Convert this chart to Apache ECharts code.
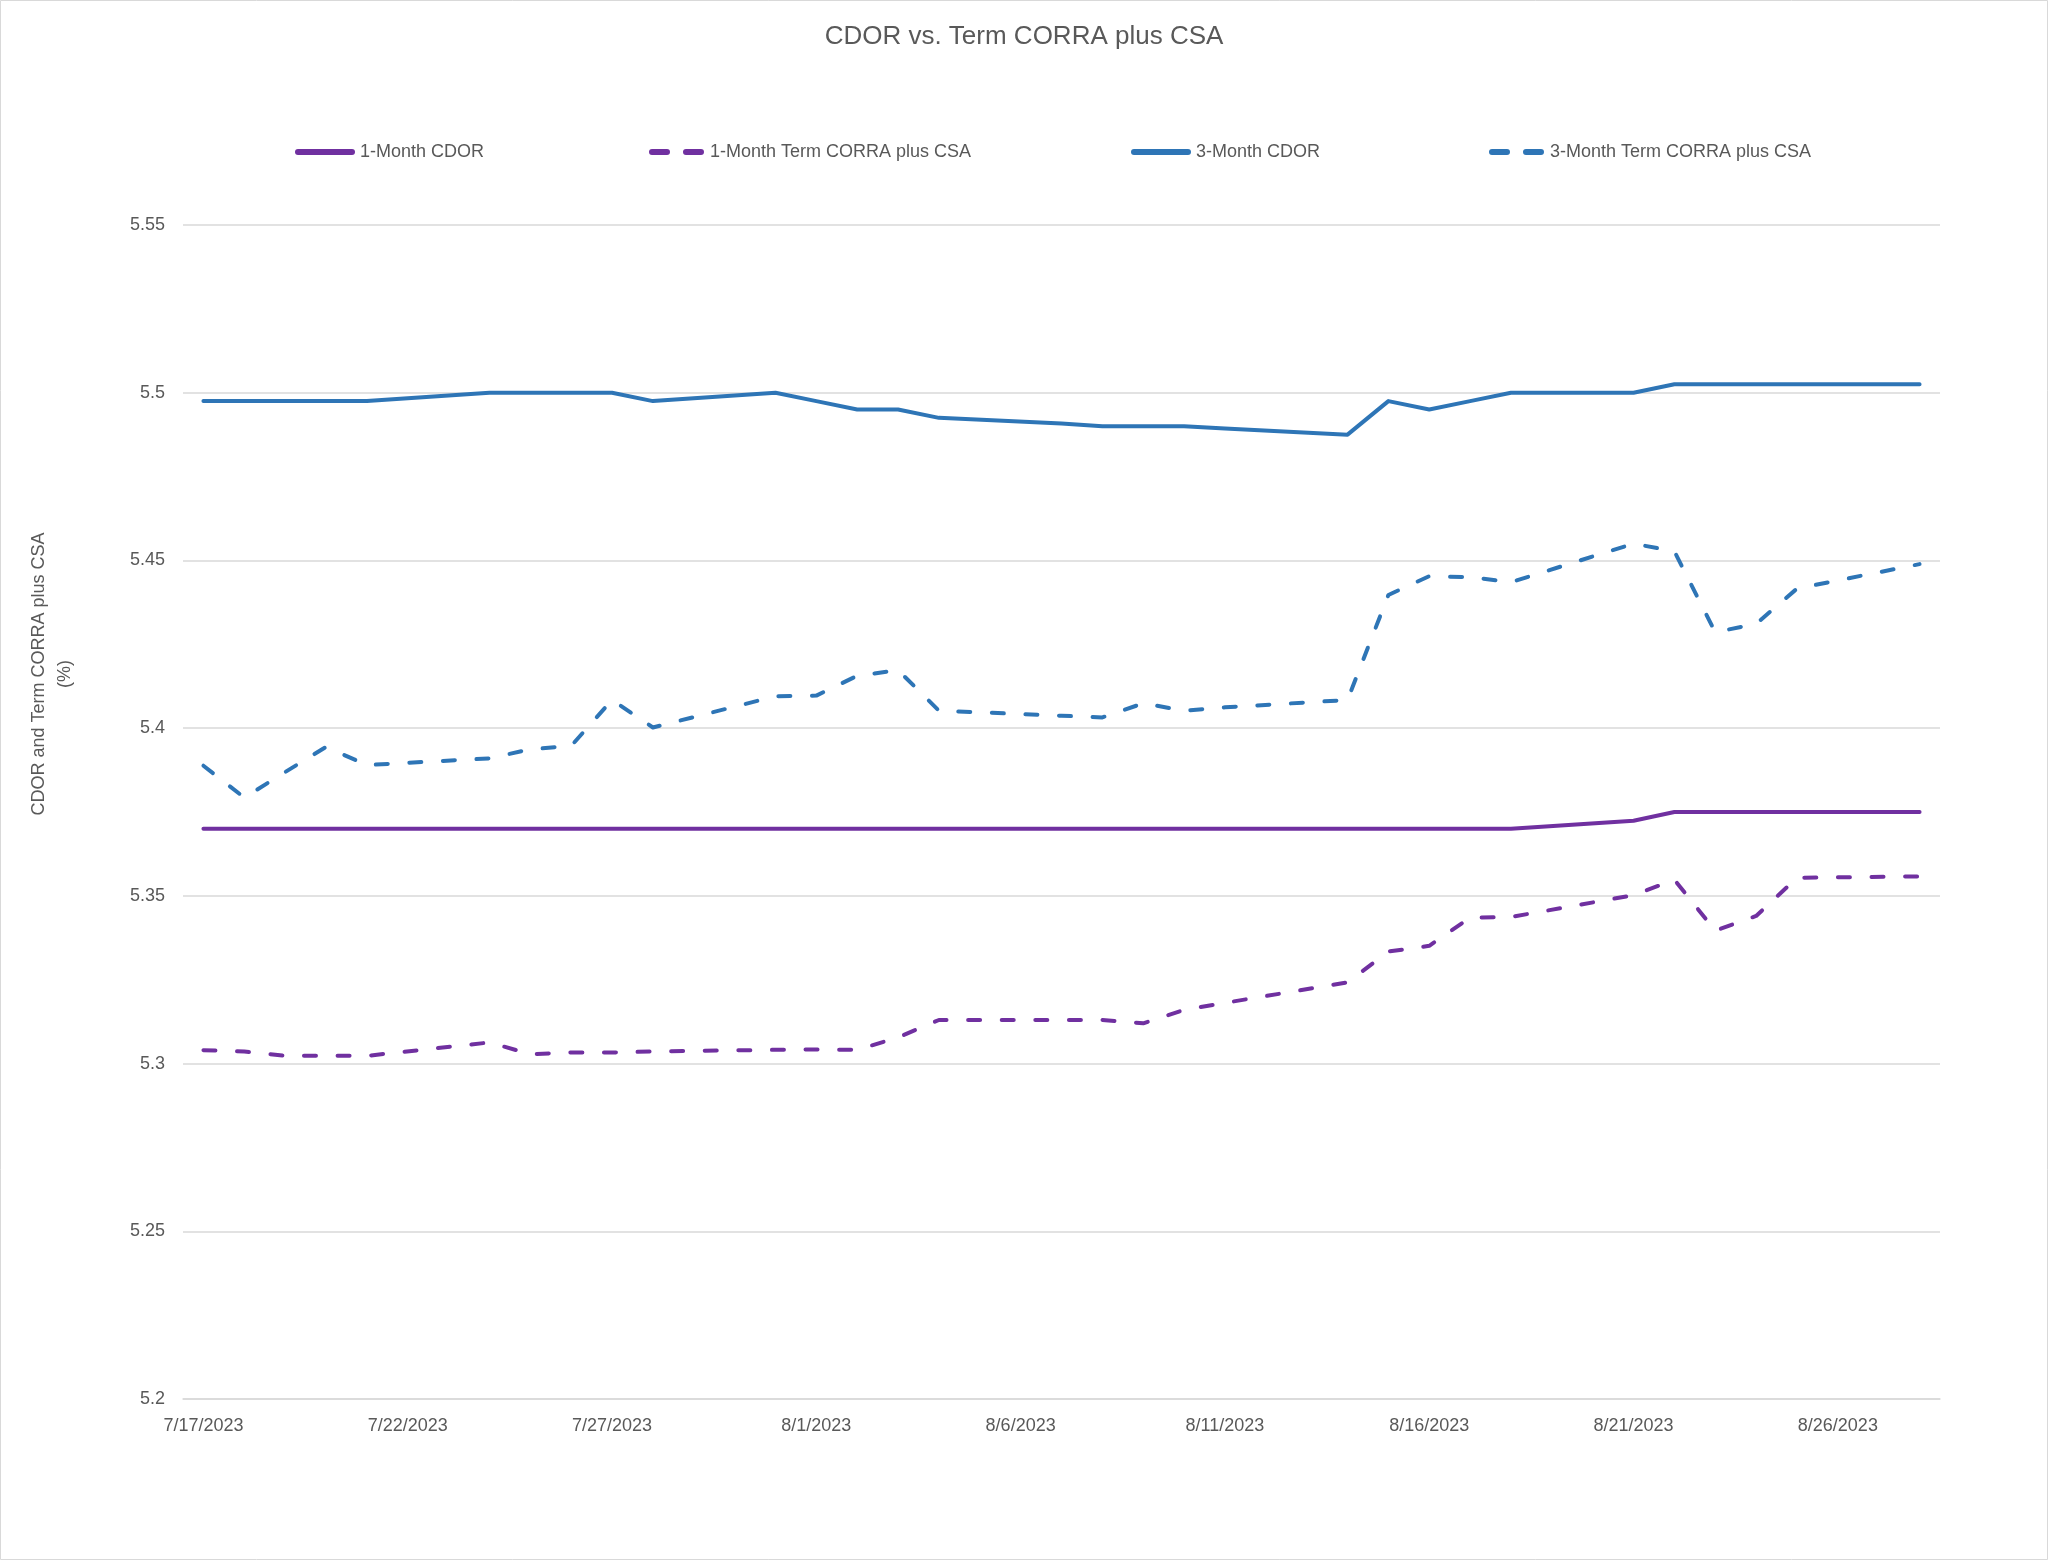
<!DOCTYPE html>
<html>
<head>
<meta charset="utf-8">
<script src="https://cdn.jsdelivr.net/npm/echarts@6/dist/echarts.min.js"></script>
<style>
  html, body { margin: 0; padding: 0; background: #fff; }
  #chart { width: 2048px; height: 1560px; }
</style>
</head>
<body>
<div id="chart"></div>
<script>
// business days with published rates
var dates = ['7/17/2023','7/18/2023','7/19/2023','7/20/2023','7/21/2023',
  '7/24/2023','7/25/2023','7/26/2023','7/27/2023','7/28/2023',
  '7/31/2023','8/1/2023','8/2/2023','8/3/2023','8/4/2023',
  '8/7/2023','8/8/2023','8/9/2023','8/10/2023','8/11/2023',
  '8/14/2023','8/15/2023','8/16/2023','8/17/2023','8/18/2023',
  '8/21/2023','8/22/2023','8/23/2023','8/24/2023','8/25/2023','8/28/2023'];

var cdor1m = [5.37,5.37,5.37,5.37,5.37, 5.37,5.37,5.37,5.37,5.37,
  5.37,5.37,5.37,5.37,5.37, 5.37,5.37,5.37,5.37,5.37,
  5.37,5.37,5.37,5.37,5.37, 5.3724,5.375,5.375,5.375,5.375,5.375];

var term1m = [5.304,5.3036,5.3023,5.3023,5.3023, 5.3063,5.3028,5.3033,5.3033,5.3036,
  5.3041,5.3042,5.3041,5.3078,5.313, 5.313,5.313,5.312,5.316,5.3181,
  5.3242,5.3334,5.3351,5.3435,5.3437, 5.3502,5.3548,5.3396,5.344,5.3554,5.3558];

var cdor3m = [5.4975,5.4975,5.4975,5.4975,5.4975, 5.5,5.5,5.5,5.5,5.4975,
  5.5,5.4975,5.495,5.495,5.4925, 5.4908,5.49,5.49,5.49,5.4893,
  5.4875,5.4975,5.495,5.4975,5.5, 5.5,5.5025,5.5025,5.5025,5.5025,5.5025];

var term3m = [5.3888,5.3793,5.3869,5.3944,5.389, 5.391,5.3937,5.3947,5.4084,5.4002,
  5.4095,5.4097,5.4156,5.4173,5.4052, 5.4037,5.4032,5.4074,5.4052,5.4062,
  5.4084,5.4397,5.4453,5.445,5.4435, 5.455,5.4527,5.4286,5.4311,5.4416,5.4489];

var seriesNames = ['1-Month CDOR','1-Month Term CORRA plus CSA','3-Month CDOR','3-Month Term CORRA plus CSA'];
var seriesData = [cdor1m, term1m, cdor3m, term3m];
var yTicks = [5.2, 5.55, 0.05]; // min, max, step

// calendar axis: every day from first to last date, weekends left empty
var days = [];
var d = new Date(2023, 6, 17);
var end = new Date(2023, 7, 28);
while (d <= end) {
  days.push((d.getMonth() + 1) + '/' + d.getDate() + '/' + d.getFullYear());
  d.setDate(d.getDate() + 1);
}

function onCalendar(values) {
  return days.map(function (day) {
    var i = dates.indexOf(day);
    return i < 0 ? null : values[i];
  });
}

var colors = ['#7030A0', '#7030A0', '#2E75B6', '#2E75B6'];
var dashed = [false, true, false, true];
var legendLeft = [295, 649, 1131, 1489];
var solidIcon = 'path://M3,0H57A3,3 0 0 1 57,6H3A3,3 0 0 1 3,0Z';
var dashIcon = 'path://M3,0H18A3,3 0 0 1 18,6H3A3,3 0 0 1 3,0ZM37,0H52A3,3 0 0 1 52,6H37A3,3 0 0 1 37,0Z';
var textColor = '#595959';
var font = 'Liberation Sans, Arial, sans-serif';

var chart = echarts.init(document.getElementById('chart'));

var option = {
  backgroundColor: '#fff',
  animation: false,
  title: {
    text: 'CDOR vs. Term CORRA plus CSA',
    left: 'center',
    top: 24,
    padding: 0,
    textStyle: { color: textColor, fontSize: 26, fontWeight: 'normal', fontFamily: font }
  },
  legend: seriesNames.map(function (name, i) {
    return {
      data: [{ name: name, icon: dashed[i] ? dashIcon : solidIcon }],
      left: legendLeft[i],
      top: 143,
      padding: 0,
      itemWidth: dashed[i] ? 57 : 60,
      itemHeight: 6,
      textStyle: { color: textColor, fontSize: 18, fontFamily: font }
    };
  }),
  grid: { left: 183, right: 108, top: 225, bottom: 161 },
  xAxis: {
    type: 'category',
    data: days,
    boundaryGap: true,
    axisLine: { lineStyle: { color: '#d9d9d9', width: 1.5 } },
    axisTick: { show: false },
    axisLabel: { interval: 4, color: textColor, fontSize: 18, fontFamily: font, margin: 18 },
    splitLine: { show: false }
  },
  yAxis: {
    type: 'value',
    min: yTicks[0],
    max: yTicks[1],
    interval: yTicks[2],
    axisLine: { show: false },
    axisTick: { show: false },
    axisLabel: {
      color: textColor, fontSize: 18, fontFamily: font, margin: 18,
      formatter: function (v) { return String(Math.round(v * 100) / 100); }
    },
    splitLine: { lineStyle: { color: '#d9d9d9', width: 1.5 } }
  },
  graphic: [
    {
      type: 'rect',
      shape: { x: 0.5, y: 0.5, width: 2047, height: 1559 },
      style: { fill: 'none', stroke: '#d9d9d9', lineWidth: 1 },
      silent: true
    },
    {
      type: 'text',
      x: 52,
      y: 674,
      rotation: Math.PI / 2,
      style: {
        text: 'CDOR and Term CORRA plus CSA\n(%)',
        fill: textColor,
        fontSize: 18,
        fontFamily: font,
        lineHeight: 26,
        align: 'center',
        verticalAlign: 'middle'
      }
    }
  ],
  series: seriesNames.map(function (name, i) {
    return {
      name: name,
      type: 'line',
      data: onCalendar(seriesData[i]),
      connectNulls: true,
      symbol: 'none',
      showSymbol: false,
      itemStyle: { color: colors[i] },
      lineStyle: {
        color: colors[i],
        width: 4,
        type: dashed[i] ? [12, 21.6] : 'solid',
        cap: 'round',
        join: 'round'
      }
    };
  })
};

chart.setOption(option);
</script>
</body>
</html>
